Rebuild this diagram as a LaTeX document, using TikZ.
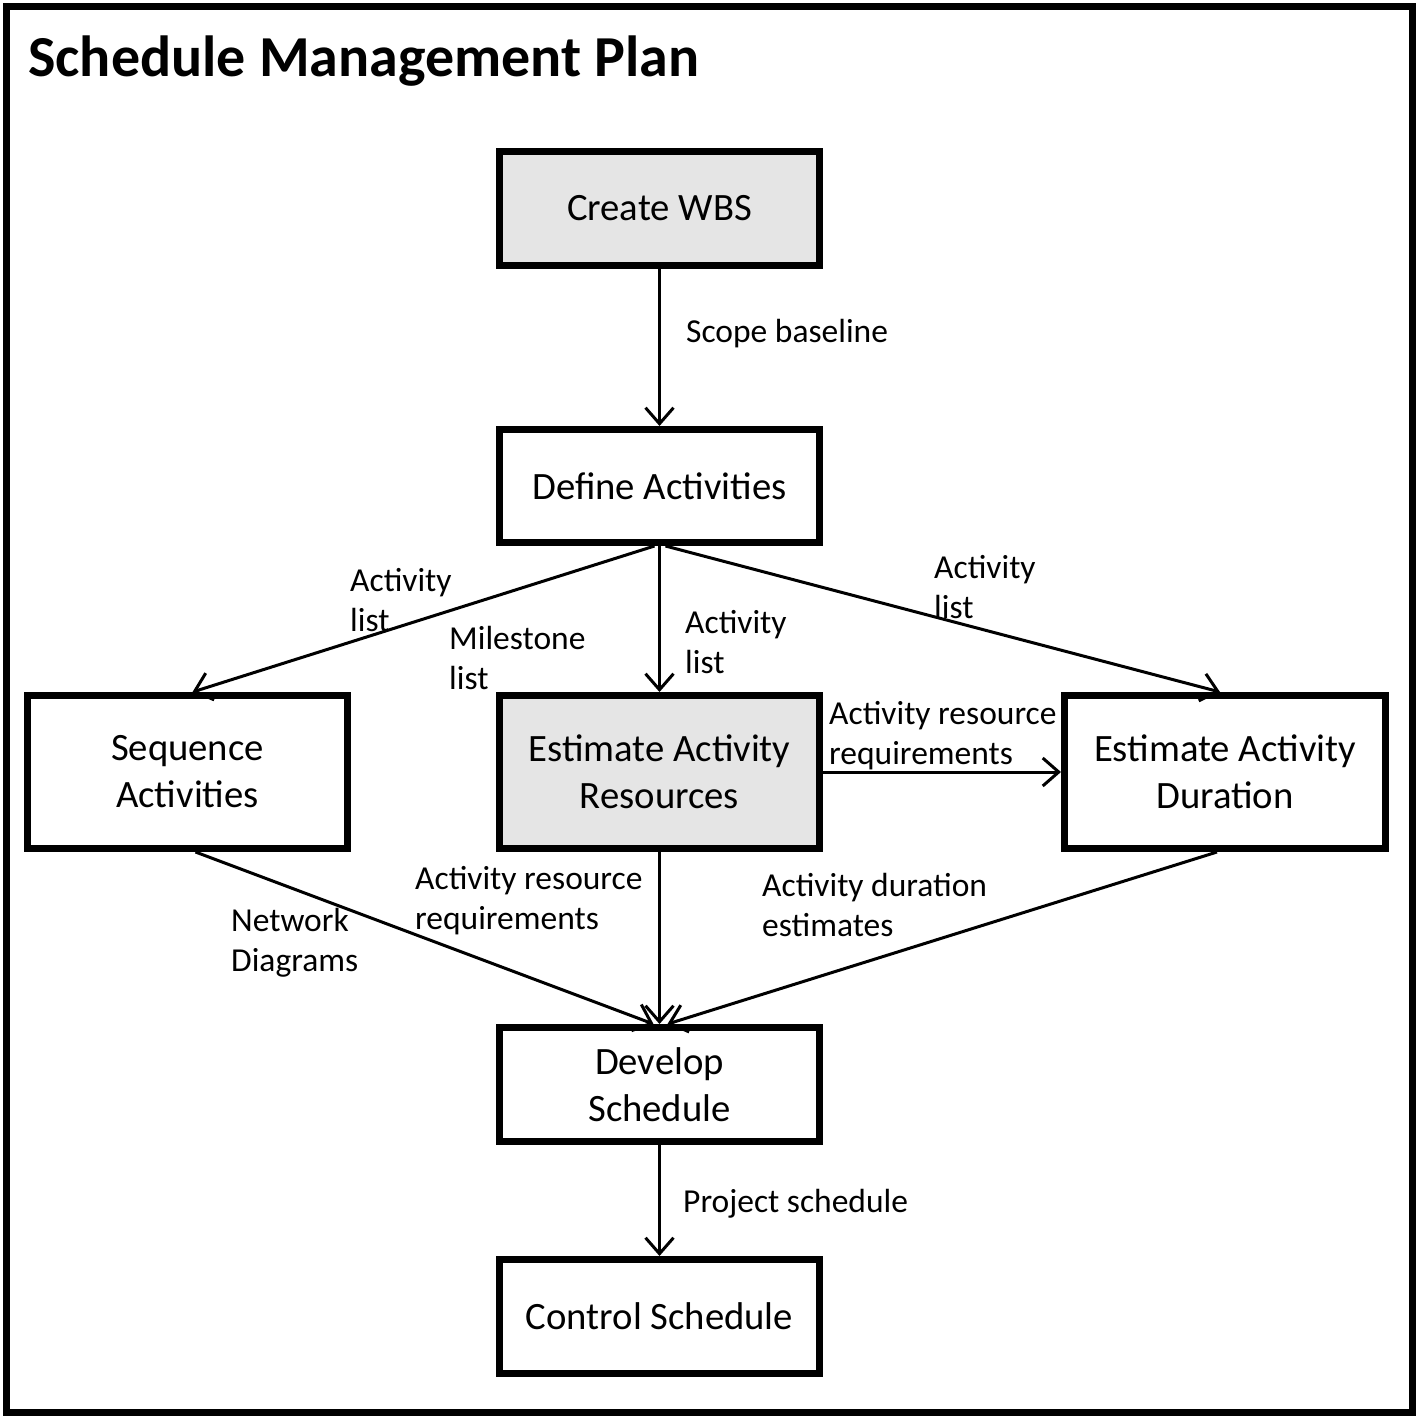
\documentclass[tikz,border=0pt]{standalone}
\usepackage{fontspec}
\setmainfont{Carlito}
\usetikzlibrary{arrows.meta}
\tikzset{
  box/.style={draw=black, line width=7pt, minimum width=320pt, align=center, font=\fontsize{38.7}{47}\selectfont, inner sep=0pt},
  graybox/.style={box, fill=black!10},
  conn/.style={line width=3pt, -{Straight Barb[length=16pt,width=28pt,line width=3pt]}},
  lbl/.style={anchor=west, align=left, inner sep=0pt, font=\fontsize{33.5}{40}\selectfont},
}
\begin{document}
\begin{tikzpicture}[x=1pt,y=-1pt]
\useasboundingbox (0,0) rectangle (1421,1417);
\draw[line width=7pt] (6.5,6.5) rectangle (1412.5,1412.5);
\node[anchor=base west, inner sep=0pt, font=\fontsize{58}{64}\selectfont\bfseries] (title) at (28,76) {Schedule Management Plan};

\node[graybox, minimum height=114pt] (wbs) at (659.5,208.5) {Create WBS};
\node[box, minimum height=113pt] (def) at (659.5,486) {Define Activities};
\node[box, minimum height=153pt] (seq) at (187.5,772) {Sequence\\Activities};
\node[graybox, minimum height=153pt] (res) at (659.5,772) {Estimate Activity\\Resources};
\node[box, minimum height=153pt, minimum width=321pt] (dur) at (1225,772) {Estimate Activity\\Duration};
\node[box, minimum height=114pt] (dev) at (659.5,1084.5) {Develop\\Schedule};
\node[box, minimum height=114pt] (ctl) at (659.5,1316.5) {Control Schedule};

\draw[conn] (wbs.south) -- (def.north);
\draw[conn] ([xshift=-5pt]def.south) -- ([xshift=5pt]seq.north);
\draw[conn] (def.south) -- (res.north);
\draw[conn] ([xshift=6pt]def.south) -- ([xshift=-5pt]dur.north);
\draw[conn] (res.east) -- (dur.west);
\draw[conn] ([xshift=8pt]seq.south) -- ([xshift=-6pt]dev.north);
\draw[conn] (res.south) -- (dev.north);
\draw[conn] ([xshift=-8pt]dur.south) -- ([xshift=8pt]dev.north);
\draw[conn] (dev.south) -- (ctl.north);

\node[lbl] (l1) at (686,333.5) {Scope baseline};
\node[lbl] (l2) at (350,600.5) {Activity\\list};
\node[lbl] (l3) at (449,657.5) {Milestone\\list};
\node[lbl] (l4) at (685,642.5) {Activity\\list};
\node[lbl] (l5) at (934,587.5) {Activity\\list};
\node[lbl] (l6) at (829,735.5) {Activity resource\\requirements};
\node[lbl] (l7) at (415,900.5) {Activity resource\\requirements};
\node[lbl] (l8) at (231,942.5) {Network\\Diagrams};
\node[lbl] (l9) at (762,904.5) {Activity duration\\estimates};
\node[lbl] (l10) at (683,1203.5) {Project schedule};
\end{tikzpicture}
\end{document}
